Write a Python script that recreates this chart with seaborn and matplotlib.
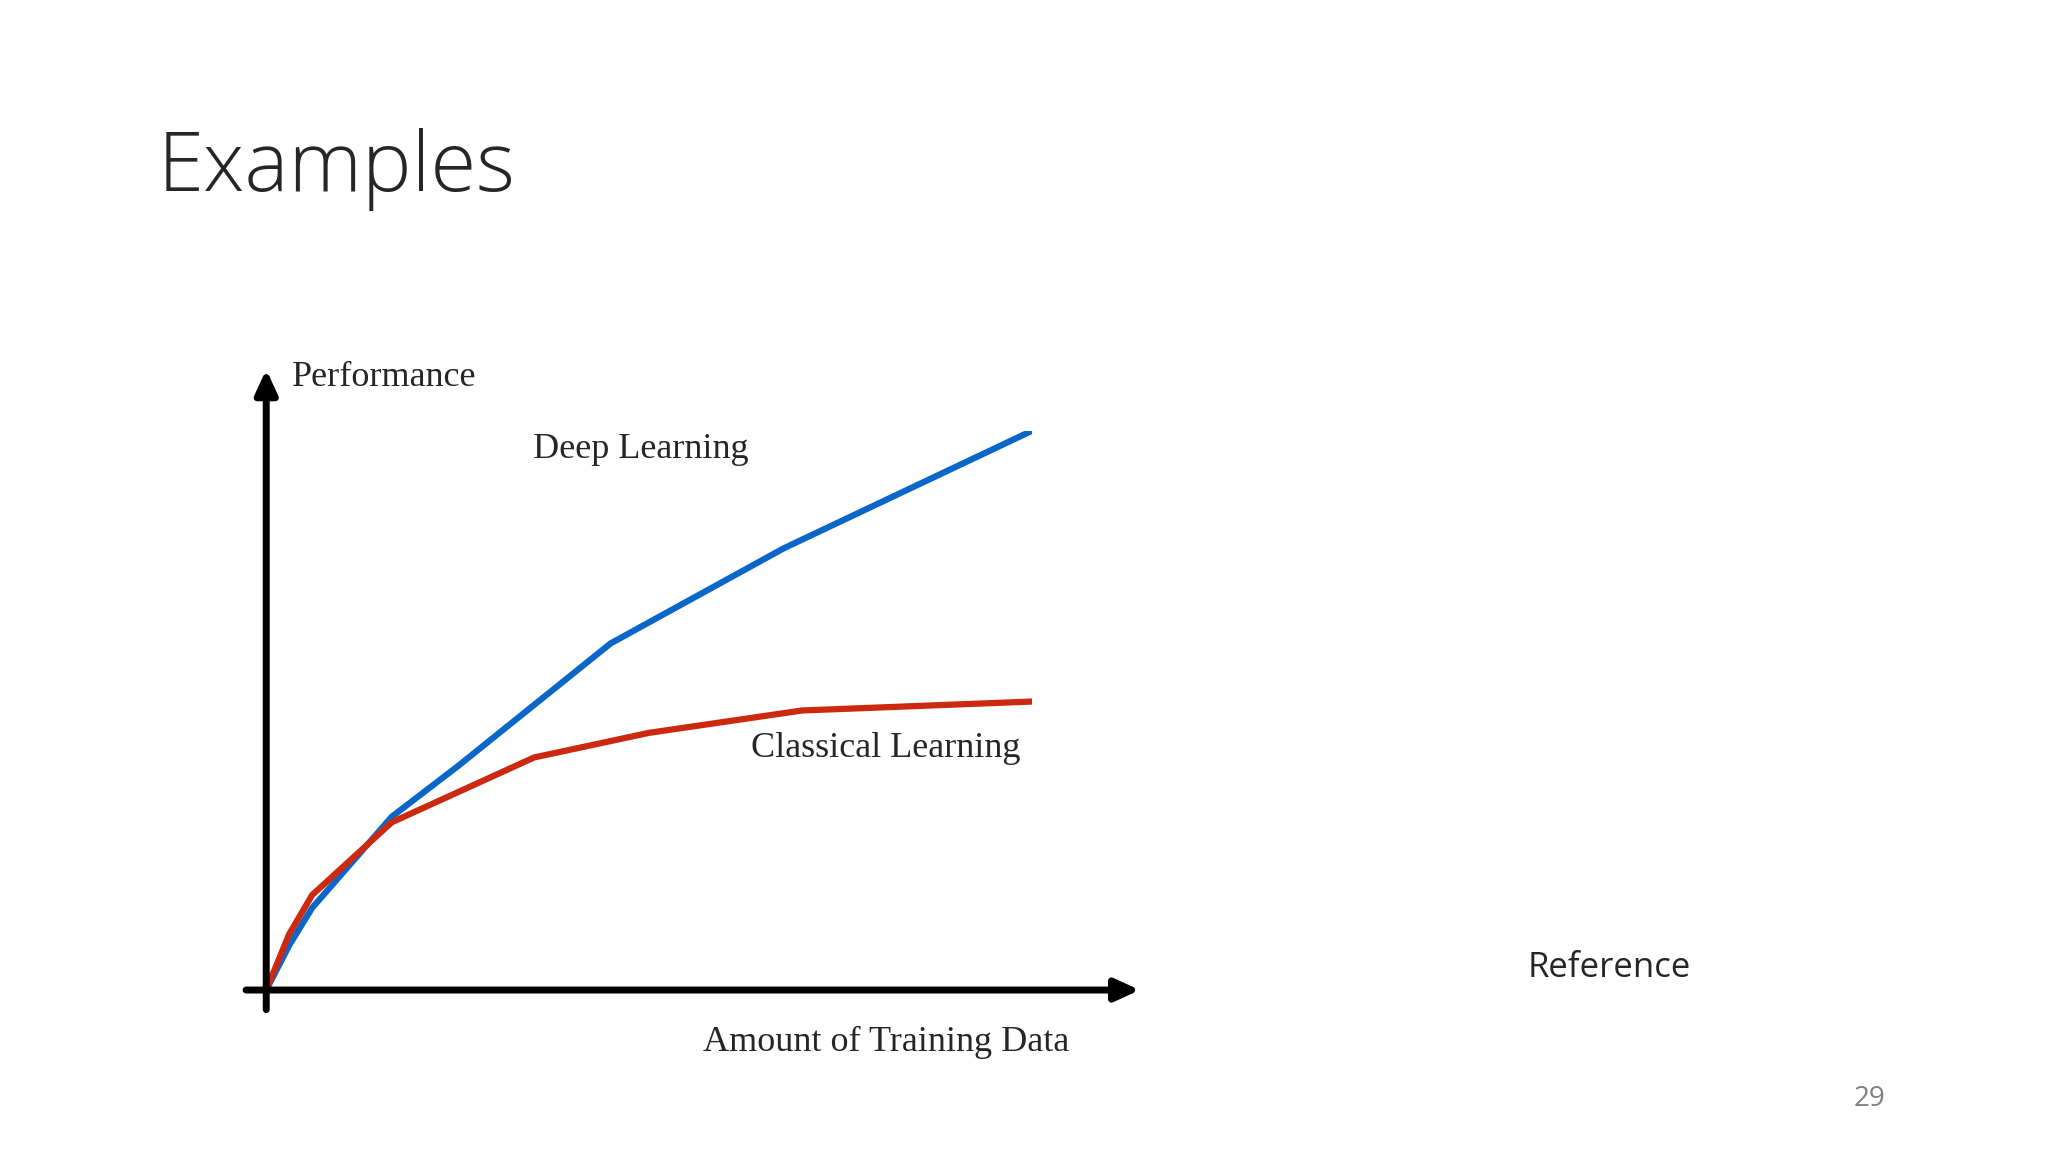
import numpy as np
import pandas as pd
import seaborn as sns
import matplotlib.pyplot as plt

# Curve values (x and performance both in 0..1)
x_deep = [0.0, 0.03, 0.06, 0.164, 0.25, 0.45, 0.676, 1.0]
y_deep = [0.0, 0.08, 0.147, 0.31, 0.40, 0.62, 0.79, 1.0]
x_classic = [0.0, 0.03, 0.06, 0.164, 0.35, 0.5, 0.7, 1.0]
y_classic = [0.0, 0.10, 0.17, 0.30, 0.416, 0.46, 0.50, 0.516]

df = pd.concat([
    pd.DataFrame({'x': x_deep, 'y': y_deep, 'model': 'Deep Learning'}),
    pd.DataFrame({'x': x_classic, 'y': y_classic, 'model': 'Classical Learning'}),
])

sns.set_theme(style="white")
fig = plt.figure(figsize=(20.48, 11.52), dpi=100)
fig.text(0.077, 0.853, "Examples", fontsize=60, family=['Open Sans', 'DejaVu Sans'],
         fontweight='light', ha='left', va='center')
fig.text(0.786, 0.16, "Reference", fontsize=25, family=['Open Sans', 'DejaVu Sans'],
         ha='center', va='center')
fig.text(0.913, 0.046, "29", fontsize=20, color='#808080',
         family=['Open Sans', 'DejaVu Sans'], ha='center', va='center')

ax = fig.add_axes([0.130, 0.1406, 0.3737, 0.4853])
sns.lineplot(data=df, x='x', y='y', hue='model', sort=False, legend=False,
             palette={'Deep Learning': '#0a66c8', 'Classical Learning': '#cc2a10'},
             linewidth=4.5, ax=ax)
ax.set_xlim(0, 1)
ax.set_ylim(0, 1)
ax.axis('off')

arrow = dict(arrowstyle='-|>,head_length=1.2,head_width=0.55', color='black', lw=5)
ax.annotate('', xy=(1.145, 0), xytext=(-0.03, 0), arrowprops=arrow, annotation_clip=False)
ax.annotate('', xy=(0, 1.115), xytext=(0, -0.04), arrowprops=arrow, annotation_clip=False)

serif = ['Liberation Serif', 'DejaVu Serif']
ax.text(0.034, 1.095, "Performance", fontsize=26, family=serif, va='center', ha='left')
ax.text(0.49, 0.966, "Deep Learning", fontsize=26, family=serif, va='center', ha='center')
ax.text(0.81, 0.432, "Classical Learning", fontsize=26, family=serif, va='center', ha='center')
ax.text(0.81, -0.093, "Amount of Training Data", fontsize=26, family=serif, va='center', ha='center')

fig.savefig("out.png", dpi=100)
